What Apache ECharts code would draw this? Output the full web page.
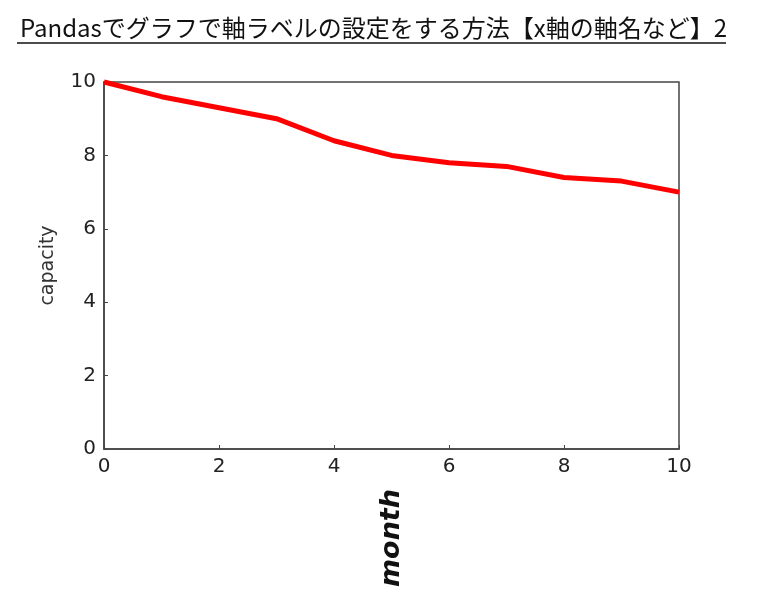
<!DOCTYPE html>
<html><head><meta charset="utf-8">
<script src="https://cdn.jsdelivr.net/npm/echarts@6/dist/echarts.min.js"></script>
<style>html,body{margin:0;padding:0;background:#fff}#c{width:768px;height:593px}</style>
</head><body><div id="c"></div>
<script>
const titleText = 'Pandasでグラフで軸ラベルの設定をする方法【x軸の軸名など】2';
const months = [0,1,2,3,4,5,6,7,8,9,10];
const capacity = [10, 9.6, 9.3, 9.0, 8.4, 8.0, 7.8, 7.7, 7.4, 7.3, 7.0];
const xTicks = [0,2,4,6,8,10];
const yTicks = [0,2,4,6,8,10];
const xName = 'month';
const yName = 'capacity';

const chart = echarts.init(document.getElementById('c'), null, {renderer:'canvas'});
const tickFont = {fontFamily:'DejaVu Sans', fontSize:20, color:'#222'};
chart.setOption({
  animation:false,
  backgroundColor:'#fff',
  title:{text:titleText, left:15, top:11,
    textStyle:{fontFamily:'Noto Sans CJK JP', fontSize:24, fontWeight:'normal', color:'#111'}},
  graphic:[{type:'line', shape:{x1:17,y1:43,x2:726,y2:43}, style:{stroke:'#111', lineWidth:1.5}}],
  grid:{left:104, top:82, width:575, height:367, show:true, borderColor:'#444', borderWidth:1.5, backgroundColor:'#fff'},
  xAxis:{type:'value', min:0, max:10, interval:2,
    name:xName, nameLocation:'middle', nameRotate:90, nameGap:40,
    nameTextStyle:{fontFamily:'DejaVu Sans', fontSize:27, fontWeight:'bold', fontStyle:'italic', color:'#111'},
    axisLine:{show:true, lineStyle:{color:'#444', width:1.5}},
    axisTick:{show:true, inside:true, length:4, lineStyle:{color:'#444'}},
    axisLabel:{...tickFont, margin:8},
    splitLine:{show:false}},
  yAxis:{type:'value', min:0, max:10, interval:2,
    name:yName, nameLocation:'middle', nameGap:46,
    nameTextStyle:{fontFamily:'DejaVu Sans', fontSize:19, color:'#333'},
    axisLine:{show:true, lineStyle:{color:'#444', width:1.5}},
    axisTick:{show:true, inside:true, length:4, lineStyle:{color:'#444'}},
    axisLabel:{...tickFont, margin:8},
    splitLine:{show:false}},
  series:[{type:'line', data:months.map((m,i)=>[m,capacity[i]]), showSymbol:false,
    lineStyle:{color:'#f00', width:5}, itemStyle:{color:'#f00'}, clip:false}]
});
</script></body></html>
